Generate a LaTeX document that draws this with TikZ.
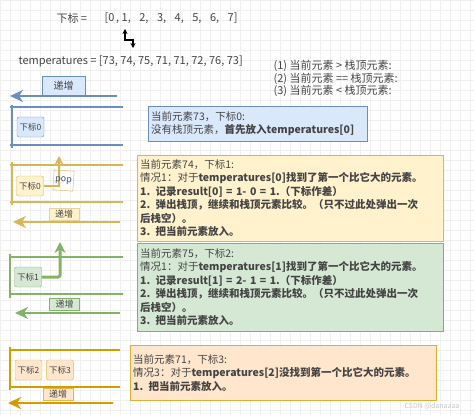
\documentclass[tikz,border=0pt]{standalone}
\usepackage{fontspec}
\setmainfont{Noto Sans CJK SC}
\usetikzlibrary{arrows.meta,positioning}

\definecolor{bluel}{HTML}{6C8EBF}
\definecolor{bluef}{HTML}{DAE8FC}
\definecolor{yell}{HTML}{D6B656}
\definecolor{yelf}{HTML}{FFF2CC}
\definecolor{greenl}{HTML}{82B366}
\definecolor{greenf}{HTML}{D5E8D4}
\definecolor{orl}{HTML}{D79B00}
\definecolor{orf}{HTML}{FFE6CC}
\definecolor{txt}{HTML}{444444}

\tikzset{
  note/.style={draw, anchor=north west, align=left, inner sep=3pt,
    font=\fontsize{10.5}{13.5}\selectfont, text=txt},
  idx/.style={draw, rounded corners=2pt, inner sep=1pt, minimum width=27pt,
    minimum height=20pt, font=\fontsize{8.5}{10}\selectfont, text=txt},
  incbox/.style={draw, inner sep=1pt, minimum width=30pt, minimum height=12pt,
    font=\fontsize{9}{10}\selectfont, text=txt},
  headtxt/.style={anchor=west, text=txt, font=\fontsize{11}{13}\selectfont},
  stackln/.style={line width=1.5pt},
  push/.style={line width=2.5pt, -{Stealth[length=13pt,width=12pt,inset=4pt]}},
}

\begin{document}
\begin{tikzpicture}[x=1pt,y=-1pt]
    \useasboundingbox (0,0) rectangle (474,415);
    % background grid
    \draw[gray!12, line width=0.3pt, step=10pt] (0,0) grid (474,415);

    % header
    \node[headtxt] (lbl) at (53,18) {下标 =};
    \node[headtxt] (arr) at (101,18)
        {[0\,,\ 1,\hspace{8.5pt}2,\hspace{8.5pt}3,\hspace{8.5pt}4,\hspace{8.5pt}5,\hspace{8.5pt}6,\hspace{8.5pt}7]};
    \coordinate (ua) at (125,29);
    \coordinate (ub) at (133,48);
    \draw[line width=1.2pt, {Stealth[length=5pt,width=5pt]}-{Stealth[length=5pt,width=5pt]}] (ua) -- ++(0,11) -| (ub);
    \node[headtxt] (temps) at (15,61)
        {temperatures = [73, 74, 75, 71, 71, 72, 76, 73]};
    \node[headtxt, align=left, font=\fontsize{11}{12.5}\selectfont] (cases) at (270,78.5)
        {(1)\ 当前元素 > 栈顶元素:\\(2)\ 当前元素 == 栈顶元素:\\(3)\ 当前元素 < 栈顶元素:};

    % step 0
    \node[incbox, draw=bluel, fill=bluef, minimum width=43pt, minimum height=20pt,
        font=\fontsize{10}{12}\selectfont] (inc0) at (63.5,86) {递增};
    \draw[push, bluel] (117,96) -- (10,96);
    \draw[stackln, bluel] (10,107) -- (123,107) (10,145) -- (123,145) (12,105) -- (12,148);
    \node[idx, draw=bluel, fill=bluef] (i0) at (30.5,127) {下标0};
    \node[note, draw=bluel, fill=bluef, minimum width=219pt, minimum height=35pt,
        text width=213pt] (b0) at (148,106)
        {当前元素73，下标0:\\没有栈顶元素，\textbf{首先放入temperatures[0]}};

    % step 1
    \draw[stackln, yell] (10,165) -- (123,165) (10,202) -- (123,202) (12,162) -- (12,205);
    \node[idx, draw=yell, fill=yelf] (i1a) at (30,186) {下标0};
    \coordinate (poptop) at (59,156);
    \draw[yell, line width=1.8pt, -{Stealth[length=9pt,width=9pt]}] (i1a.east) -| (poptop);
    \node[draw=yell, minimum size=20pt, inner sep=0pt, rotate=-4,
        text=bluel!60!black, font=\fontsize{9}{10}\selectfont] (pop) at (63.5,180.5) {pop};
    \node[incbox, draw=yell!60, fill=yelf] (inc1) at (64,214) {递增};
    \draw[push, yell] (120,222) -- (13,222);
    \node[note, draw=yell, fill=yelf, minimum width=306pt, minimum height=86pt,
        text width=300pt] (b1) at (137,155)
        {当前元素74，下标1:\\
         情况1：对于\textbf{temperatures[0]找到了第一个比它大的元素。}\\
         \textbf{1. 记录result[0] = 1- 0 = 1.（下标作差）}\\
         \textbf{2. 弹出栈顶，继续和栈顶元素比较。（只不过此处弹出一次}\\
         \textbf{后栈空）。}\\
         \textbf{3. 把当前元素放入。}};

    % step 2
    \draw[stackln, greenl] (10,257) -- (123,257) (10,294) -- (123,294) (10,254) -- (10,298);
    \node[idx, draw=greenl, fill=greenf] (i2) at (28,277) {下标1};
    \coordinate (gtop) at (60,242);
    \draw[greenl, line width=3pt, rounded corners=2pt, -{Stealth[length=11pt,width=11pt]}] (i2.east) -| (gtop);
    \node[incbox, draw=greenl, fill=greenf] (inc2) at (64.5,304.5) {递增};
    \draw[push, greenl] (120,313) -- (15,313);
    \node[note, draw=greenl, fill=greenf, minimum width=306pt, minimum height=88pt,
        text width=300pt] (b2) at (137,243)
        {当前元素75，下标2:\\
         情况1：对于\textbf{temperatures[1]找到了第一个比它大的元素。}\\
         \textbf{1. 记录result[1] = 2- 1 = 1.（下标作差）}\\
         \textbf{2. 弹出栈顶，继续和栈顶元素比较。（只不过此处弹出一次}\\
         \textbf{后栈空）。}\\
         \textbf{3. 把当前元素放入。}};

    % step 3
    \draw[stackln, orl] (10,350) -- (120,350) (10,387) -- (120,387) (10,347) -- (10,390);
    \node[idx, draw=orl!70, fill=orf] (i3a) at (28.5,370) {下标2};
    \node[idx, draw=orl!70, fill=orf, right=4pt of i3a] (i3b) {下标3};
    \node[incbox, draw=orl!70, fill=orf] (inc3) at (58,394) {递增};
    \draw[push, orl] (113,403) -- (8,403);
    \node[note, draw=orl!80, fill=orf, minimum width=306pt, minimum height=55pt,
        text width=300pt] (b3) at (130,345)
        {当前元素71，下标3:\\
         情况3：对于\textbf{temperatures[2]没找到第一个比它大的元素。}\\
         \textbf{1. 把当前元素放入。}};

    \node[text=gray!45, font=\fontsize{7}{8}\selectfont] (mark) at (432,406) {CSDN @danaaaa};
\end{tikzpicture}
\end{document}
